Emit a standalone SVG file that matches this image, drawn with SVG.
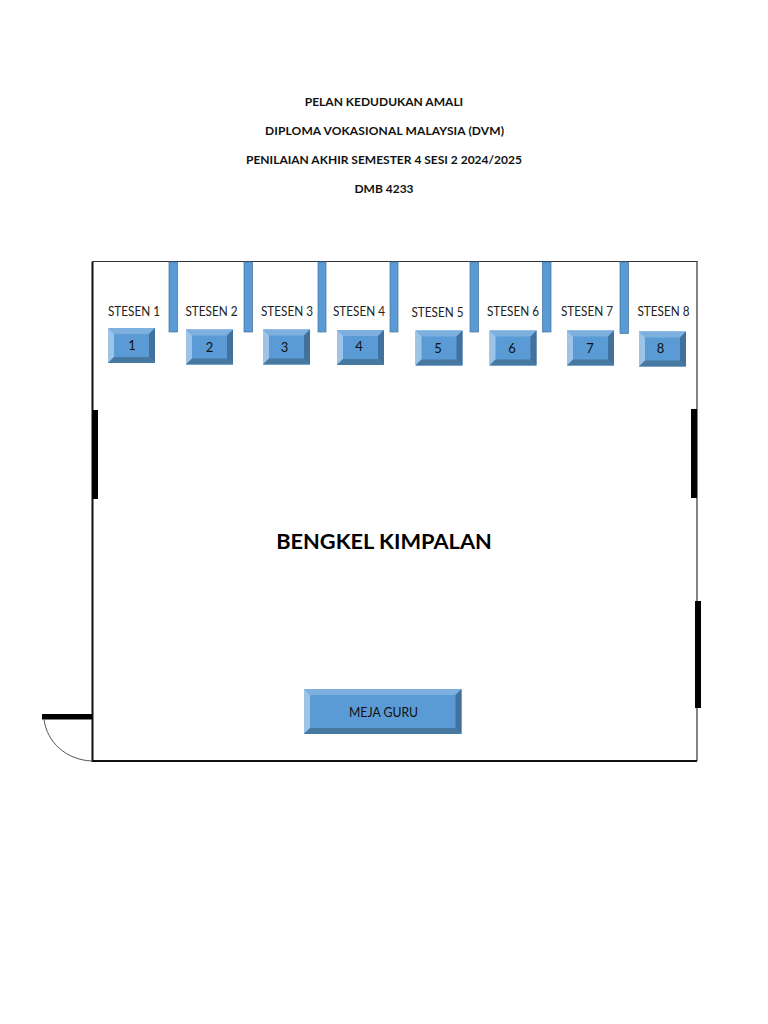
<svg xmlns="http://www.w3.org/2000/svg" xmlns:xlink="http://www.w3.org/1999/xlink" width="768" height="1024" viewBox="0 0 768 1024">
<style>
text{font-family:Lato,"Open Sans","Liberation Sans",sans-serif;fill:#111;text-anchor:middle}
.t{font-size:12px;font-weight:700}
.l{font-size:12.5px;fill:#222}
.n{font-size:13px}
.face{fill:#5b9bd5}
.top{fill:#7db0df}
.left{fill:#9dc3e6}
.right{fill:#41719c}
.bottom{fill:#47789f}
.part{fill:#5b9bd5;stroke:#41719c;stroke-width:.7}
.blk{fill:#000}
</style>
<defs>
<g id="bevel">
<rect class="face" width="47" height="35"/>
<polygon class="top" points="0,0 47,0 41,6 6,6"/>
<polygon class="left" points="0,0 6,6 6,29 0,35"/>
<polygon class="right" points="47,0 47,35 41,29 41,6"/>
<polygon class="bottom" points="0,35 6,29 41,29 47,35"/>
</g>
</defs>
<rect width="768" height="1024" fill="#fff"/>
<g id="title">
<text class="t" x="384" y="106">PELAN KEDUDUKAN AMALI</text>
<text class="t" x="384.500" y="135" textLength="239">DIPLOMA VOKASIONAL MALAYSIA (DVM)</text>
<text class="t" x="384" y="164">PENILAIAN AKHIR SEMESTER 4 SESI 2 2024/2025</text>
<text class="t" x="384" y="193">DMB 4233</text>
</g>
<g id="walls">
<path d="M92.5 261.5H697V761" fill="none" stroke="#333" stroke-width="1.2"/>
<path d="M92.5 261.5V761H697" fill="none" stroke="#111" stroke-width="2"/>
<rect class="blk" x="92" y="410" width="6" height="89"/>
<rect class="blk" x="691" y="409" width="6" height="89"/>
<rect class="blk" x="695" y="601" width="6" height="107"/>
</g>
<g id="door">
<rect class="blk" x="42" y="714" width="50" height="5.5"/>
<path d="M44 719.5C47 742 66 760 92 761" fill="none" stroke="#555" stroke-width="1"/>
</g>
<g id="partitions">
<rect class="part" x="169" y="262" width="8.5" height="70"/>
<rect class="part" x="244" y="262" width="8.5" height="70"/>
<rect class="part" x="318" y="262" width="8" height="70"/>
<rect class="part" x="390" y="262" width="8" height="70"/>
<rect class="part" x="470" y="262" width="8.5" height="70"/>
<rect class="part" x="542.5" y="262" width="8.5" height="70"/>
<rect class="part" x="620" y="262" width="8.5" height="71.5"/>
</g>
<g id="stesen-1"><text class="l" x="134" y="315.500" textLength="52" lengthAdjust="spacingAndGlyphs">STESEN 1</text><use xlink:href="#bevel" href="#bevel" x="108" y="328"/><text class="n" x="132" y="350">1</text></g>
<g id="stesen-2"><text class="l" x="211.500" y="315.500" textLength="52" lengthAdjust="spacingAndGlyphs">STESEN 2</text><use xlink:href="#bevel" href="#bevel" x="186" y="329.500"/><text class="n" x="209.500" y="352">2</text></g>
<g id="stesen-3"><text class="l" x="287" y="315.500" textLength="52" lengthAdjust="spacingAndGlyphs">STESEN 3</text><use xlink:href="#bevel" href="#bevel" x="263" y="329.500"/><text class="n" x="284.500" y="352">3</text></g>
<g id="stesen-4"><text class="l" x="359" y="315.500" textLength="52" lengthAdjust="spacingAndGlyphs">STESEN 4</text><use xlink:href="#bevel" href="#bevel" x="337" y="330"/><text class="n" x="359" y="351">4</text></g>
<g id="stesen-5"><text class="l" x="437.500" y="316.500" textLength="52" lengthAdjust="spacingAndGlyphs">STESEN 5</text><use xlink:href="#bevel" href="#bevel" x="415.500" y="330.500"/><text class="n" x="438" y="353">5</text></g>
<g id="stesen-6"><text class="l" x="513" y="315.500" textLength="52" lengthAdjust="spacingAndGlyphs">STESEN 6</text><use xlink:href="#bevel" href="#bevel" x="489.500" y="330.500"/><text class="n" x="512" y="353">6</text></g>
<g id="stesen-7"><text class="l" x="587" y="315.500" textLength="52" lengthAdjust="spacingAndGlyphs">STESEN 7</text><use xlink:href="#bevel" href="#bevel" x="567" y="330.500"/><text class="n" x="590" y="353">7</text></g>
<g id="stesen-8"><text class="l" x="663.500" y="315.500" textLength="52" lengthAdjust="spacingAndGlyphs">STESEN 8</text><use xlink:href="#bevel" href="#bevel" x="639" y="331.500"/><text class="n" x="660.500" y="353">8</text></g>
<g id="bengkel"><text x="384" y="549" font-size="21.800" font-weight="700" style="fill:#000">BENGKEL KIMPALAN</text></g>
<g id="meja-guru">
<rect class="face" x="304" y="689" width="157.500" height="45"/>
<polygon class="top" points="304,689 461.500,689 455.500,695 310,695"/>
<polygon class="left" points="304,689 310,695 310,728 304,734"/>
<polygon class="right" points="461.500,689 461.500,734 455.500,728 455.500,695"/>
<polygon class="bottom" points="304,734 310,728 455.500,728 461.500,734"/>
<text x="383.500" y="716.500" font-size="13" textLength="69" lengthAdjust="spacingAndGlyphs">MEJA GURU</text>
</g>
</svg>
